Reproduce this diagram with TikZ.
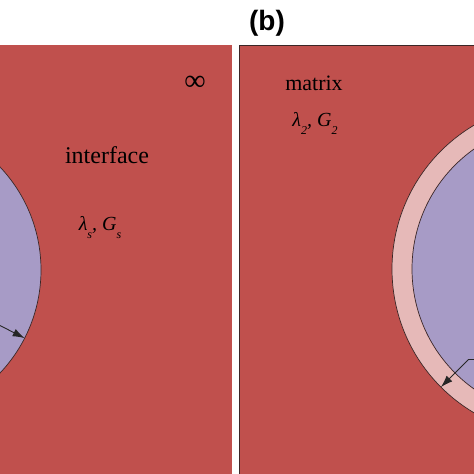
\documentclass[tikz,border=0pt]{standalone}
\usepackage{fontspec}
\setmainfont{Liberation Serif}
\newfontfamily\titlefont{Liberation Sans}
\usetikzlibrary{calc,arrows.meta}
\definecolor{matred}{HTML}{C0504D}
\definecolor{incl}{HTML}{A79BC6}
\definecolor{shell}{HTML}{E6B9B8}
\definecolor{edge}{HTML}{3B2626}
\newcommand{\idx}[1]{\raisebox{-0.4em}{\fontsize{12}{12}\selectfont #1}}
\tikzset{
  regiontext/.style={inner sep=0pt,font=\fontsize{23}{23}\selectfont},
  paramtext/.style={inner sep=0pt,font=\fontsize{20}{20}\selectfont\itshape},
  radius arrow/.style={draw=black!85,line width=0.9pt,-{Latex[length=12pt,width=8pt]}},
}
\begin{document}
\begin{tikzpicture}[x=1pt,y=-1pt]
    \useasboundingbox (0,0) rectangle (474,474);
    % left panel: inclusion in the interface
    \begin{scope}
        \clip (0,45) rectangle (232,474);
        \fill[matred] (-2,45) rectangle (232,476);
        \coordinate (cL) at (-109,270);
        \filldraw[fill=incl,draw=edge,line width=0.7pt] (cL) circle [radius=150];
        \coordinate (tipL) at ($(cL)+(27:150)$);
        \draw[radius arrow] (cL) -- (tipL);
    \end{scope}
    \node[inner sep=0pt,font=\fontsize{30}{30}\selectfont] (inf) at (195,83) {∞};
    \node[regiontext,font=\fontsize{24}{24}\selectfont] (iface) at (107,155) {interface};
    \node[paramtext] (parS) at (100,228) {λ\idx{s}, G\idx{s}};
    % right panel: coated inclusion in the matrix
    \begin{scope}
        \clip (239,45) rectangle (474,474);
        \fill[matred] (239,45) rectangle (476,476);
        \coordinate (cR) at (559,269);
        \filldraw[fill=shell,draw=edge,line width=0.7pt] (cR) circle [radius=167];
        \filldraw[fill=incl,draw=edge,line width=0.7pt] (cR) circle [radius=147];
        \coordinate (tipR) at ($(cR)+(135:167)$);
        \coordinate (bendR) at ($(cR)+(135:128)$);
        \coordinate (tailR) at ($(bendR)+(20,0)$);
        \draw[radius arrow] (tailR) -- (bendR) -- (tipR);
        \draw[edge,line width=0.9pt] (239.4,474) -- (239.4,45.4) -- (476,45.4);
    \end{scope}
    \node[regiontext,font=\fontsize{22}{22}\selectfont] (matr) at (314,83) {matrix};
    \node[paramtext] (par2) at (315,123) {λ\idx{2}, G\idx{2}};
    \node[inner sep=0pt,font=\titlefont\bfseries\fontsize{28}{28}\selectfont] (title) at (267,23) {(b)};
\end{tikzpicture}
\end{document}
